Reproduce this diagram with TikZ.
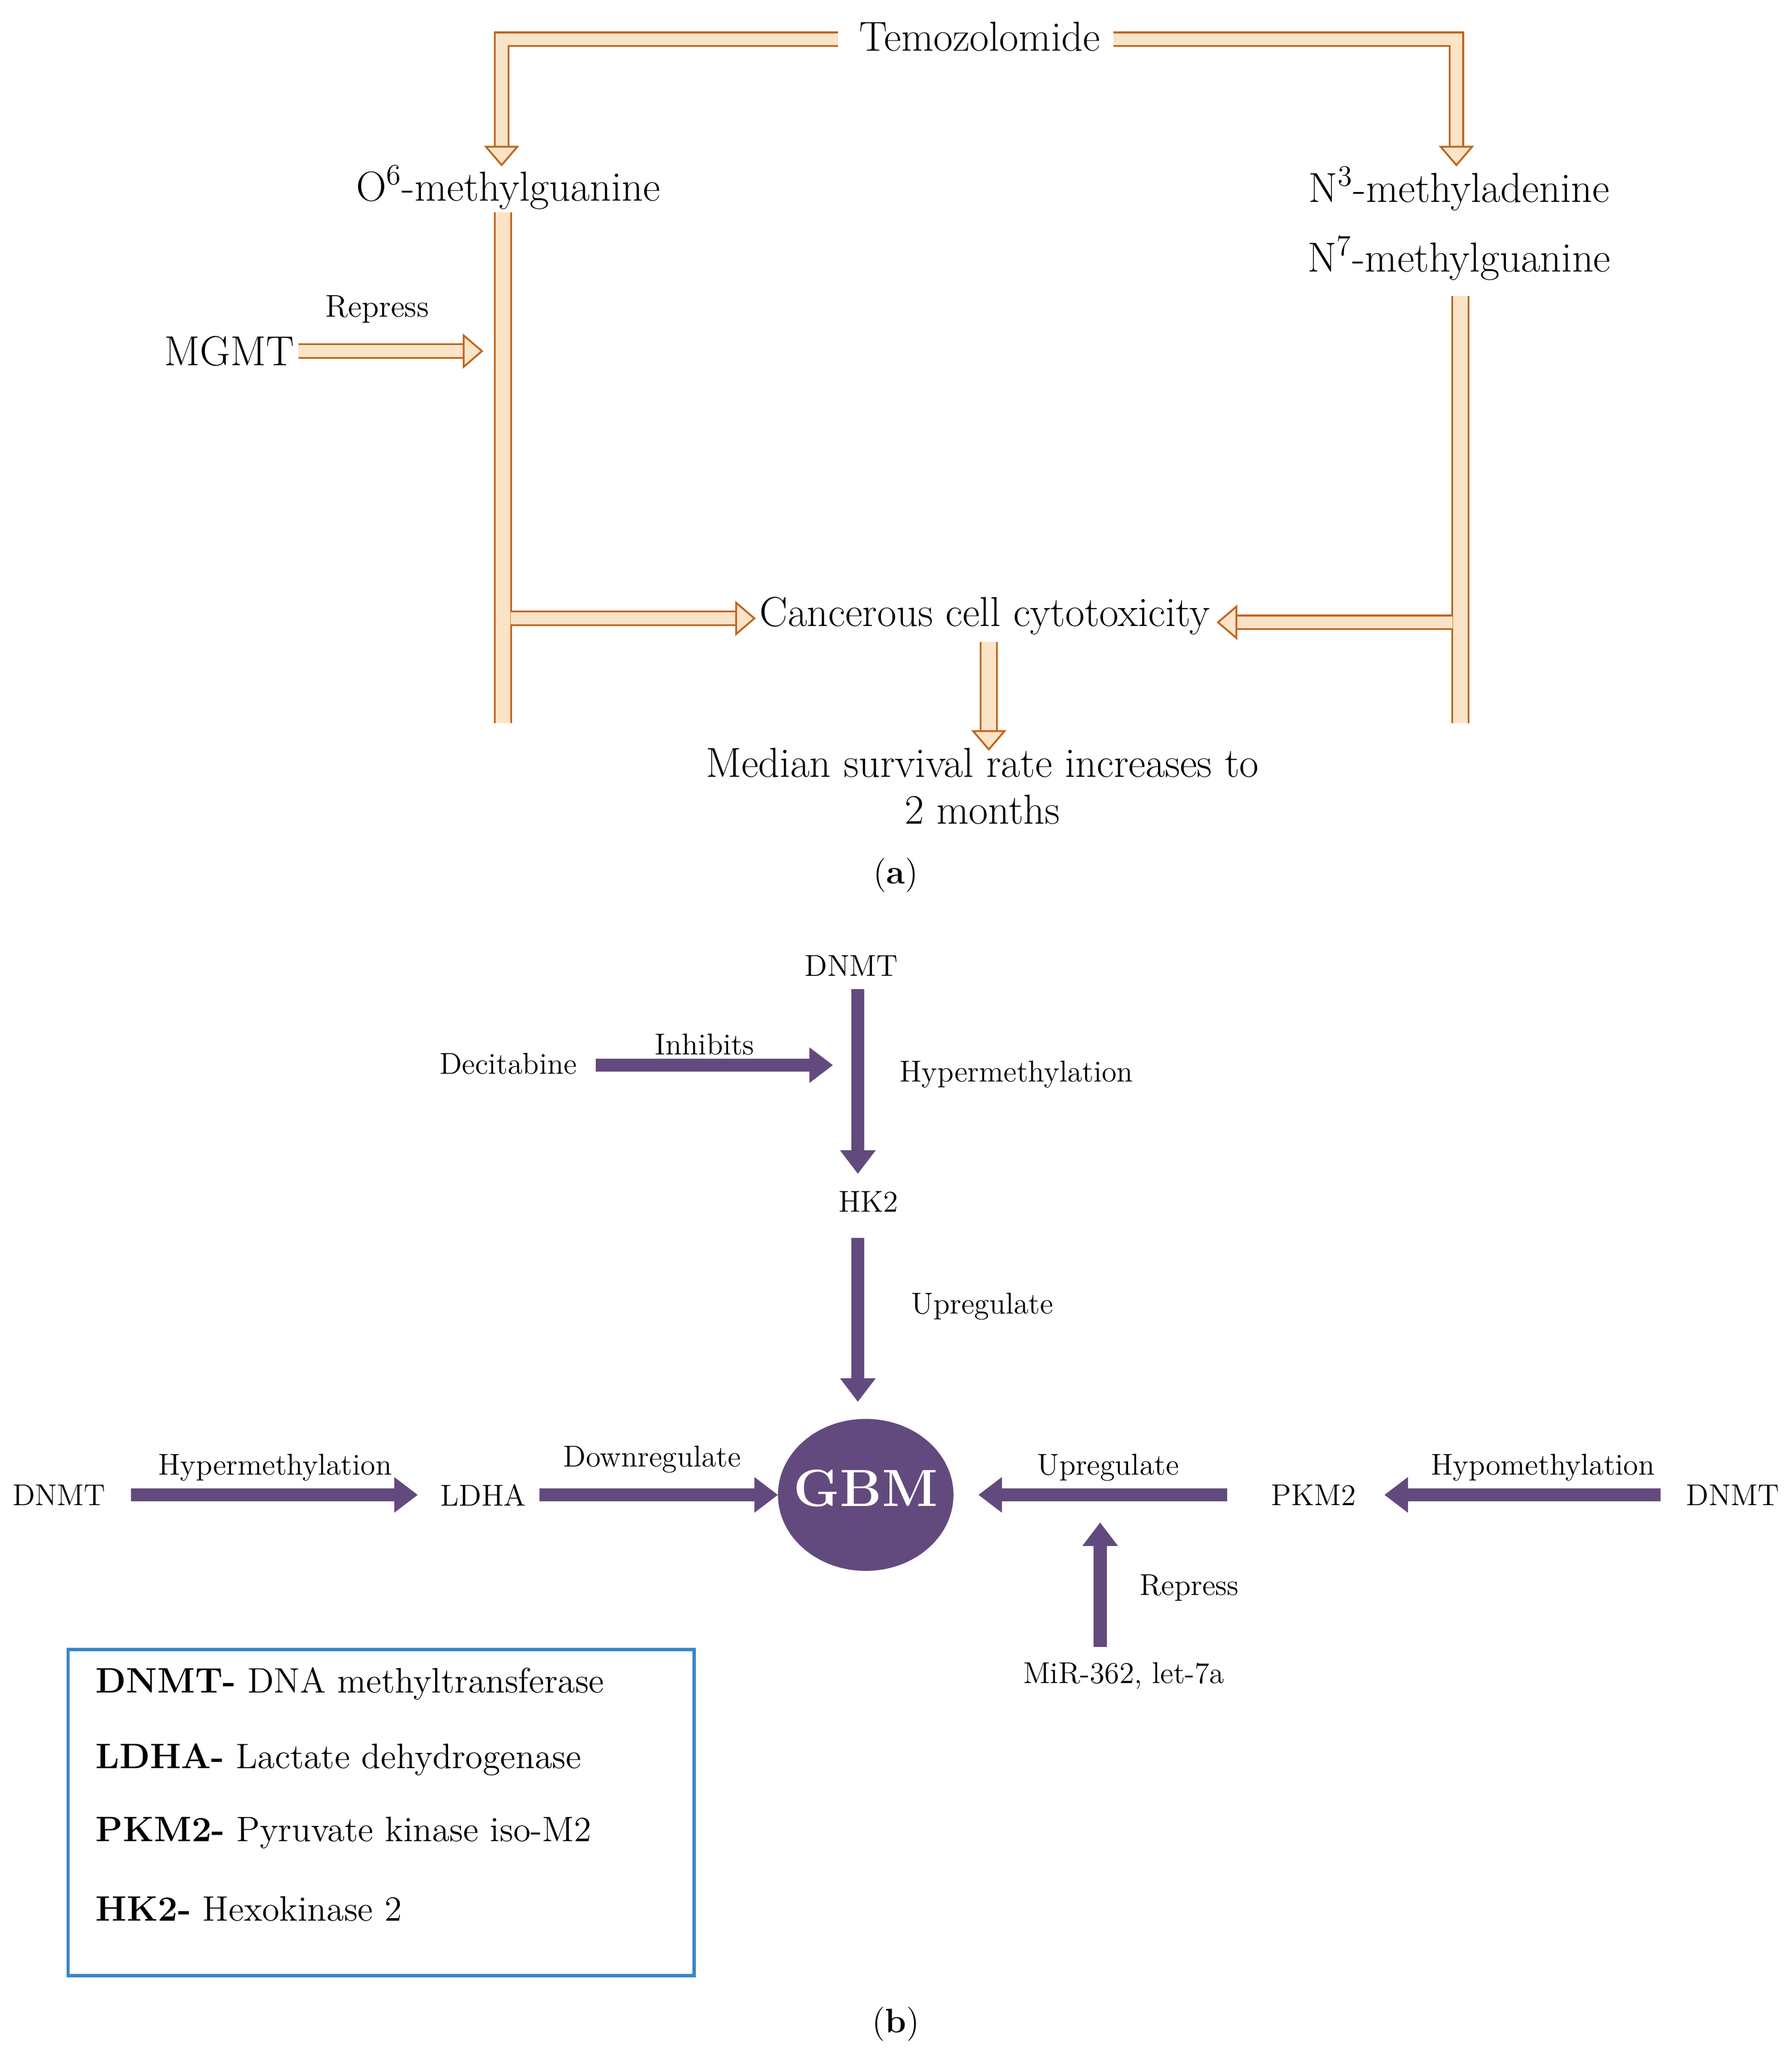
\documentclass[tikz,border=0pt]{standalone}
\usetikzlibrary{arrows.meta,shapes.geometric}
\definecolor{ob}{HTML}{C0651E}
\definecolor{op}{HTML}{FBE3C8}
\definecolor{pu}{HTML}{634A7E}
\definecolor{bl}{HTML}{3A86C8}
\newcommand\ohd[4]{\filldraw[draw=ob,fill=op,line width=0.7pt,line join=miter] (#1,#2) -- ({#1-14*#3+12*#4},{#2-14*#4-12*#3}) -- ({#1-14*#3-12*#4},{#2-14*#4+12*#3}) -- cycle;}
\begin{document}
\begin{tikzpicture}[x=0.5pt,y=-0.5pt,
  oshaft/.style={draw=ob,line width=0.7pt,double=op,double distance=4.5pt,line join=miter},
  vbar/.style={draw=ob,line width=0.7pt,double=op,double distance=5.5pt},
  ta/.style={font=\fontsize{16}{18}\selectfont},
  tb/.style={font=\fontsize{11.5}{13}\selectfont},
  parr/.style={pu,line width=5pt,-{Triangle[length=9pt,width=13pt]}},
  lg/.style={font=\fontsize{13.5}{16}\selectfont,anchor=west}]
\useasboundingbox (0,0) rectangle (1368,1567);
% ---------- (a)
\node[ta] (tmz) at (748,28) {Temozolomide};
\node[ta] (o6) at (388,143) {O\textsuperscript{6}-methylguanine};
\node[ta] (n3) at (1114,144) {N\textsuperscript{3}-methyladenine};
\node[ta] (n7) at (1114,197) {N\textsuperscript{7}-methylguanine};
\node[ta] (mgmt) at (175,268) {MGMT};
\node[tb,font=\fontsize{12}{14}\selectfont] (rep1) at (288,236) {Repress};
\node[ta] (cyto) at (752,470) {Cancerous cell cytotoxicity};
\node[ta,align=center] (med) at (750,600) {Median survival rate increases to\\2 months};
\node[ta,font=\fontsize{13}{15}\selectfont] at (684,668) {(\textbf{a})};
\draw[oshaft] (640,30) -- (383,30) -- (383,112);
\ohd{383}{126}{0}{1}
\draw[oshaft] (850,30) -- (1112,30) -- (1112,112);
\ohd{1112}{126}{0}{1}
\draw[vbar] (384,162) -- (384,552);
\draw[vbar] (1115,226) -- (1115,552);
\draw[oshaft] (228,268) -- (354,268);
\ohd{368}{268}{1}{0}
\draw[oshaft] (390,472) -- (562,472);
\ohd{576}{472}{1}{0}
\draw[oshaft] (1109,475) -- (944,475);
\ohd{930}{475}{-1}{0}
\draw[vbar] (755,490) -- (755,558);
\ohd{755}{572}{0}{1}
% ---------- (b)
\node[tb] (dnmt1) at (650,737) {DNMT};
\node[tb] (dec) at (388,812) {Decitabine};
\node[tb] at (538,797) {Inhibits};
\node[tb] at (776,820) {Hypermethylation};
\node[tb] (hk2) at (663,917) {HK2};
\node[tb] at (750,997) {Upregulate};
\node[ellipse,fill=pu,minimum width=67pt,minimum height=58pt,inner sep=0] (gbm) at (661,1141) {};
\node[text=white,font=\fontsize{20}{22}\selectfont\bfseries] at (661,1136) {GBM};
\node[tb] (dnmt2) at (45,1141) {DNMT};
\node[tb] at (210,1120) {Hypermethylation};
\node[tb] (ldha) at (369,1141) {LDHA};
\node[tb] at (498,1114) {Downregulate};
\node[tb] at (846,1120) {Upregulate};
\node[tb] (pkm2) at (1003,1141) {PKM2};
\node[tb] at (1178,1120) {Hypomethylation};
\node[tb] (dnmt3) at (1323,1141) {DNMT};
\node[tb] at (908,1212) {Repress};
\node[tb] (mir) at (858,1279) {MiR-362, let-7a};
\coordinate (a1) at (455,813); \coordinate (a2) at (636,813);
\draw[parr] (a1) -- (a2);
\draw[parr] (655,755) -- (655,896);
\draw[parr] (655,945) -- (655,1070);
\draw[parr] (100,1141) -- (319,1141);
\draw[parr] (412,1141) -- (594,1141);
\draw[parr] (937,1141) -- (747,1141);
\draw[parr] (1268,1141) -- (1057,1141);
\draw[parr] (840,1257) -- (840,1162);
\draw[bl,line width=1.2pt] (52,1259) rectangle (530,1508);
\node[lg] at (66,1285) {\textbf{DNMT-} DNA methyltransferase};
\node[lg] at (66,1343) {\textbf{LDHA-} Lactate dehydrogenase};
\node[lg] at (66,1399) {\textbf{PKM2-} Pyruvate kinase iso-M2};
\node[lg] at (66,1457) {\textbf{HK2-} Hexokinase 2};
\node[ta,font=\fontsize{13}{15}\selectfont] at (684,1545) {(\textbf{b})};
\end{tikzpicture}
\end{document}
